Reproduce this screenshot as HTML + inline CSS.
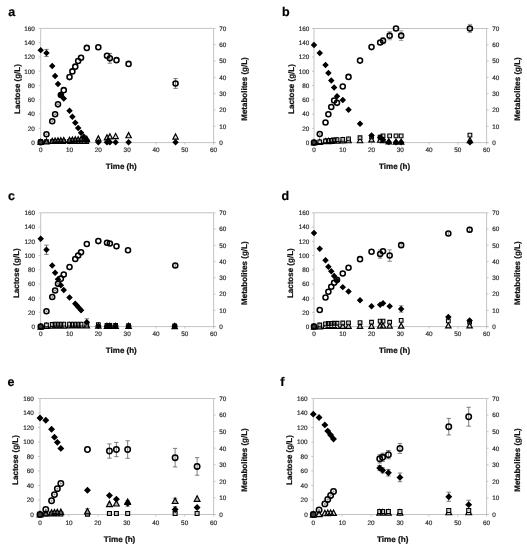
<!DOCTYPE html>
<html lang="en">
<head>
<meta charset="utf-8">
<title>Lactose fermentation profiles</title>
<style>
html,body{margin:0;padding:0;background:#fff;}
body{width:527px;height:550px;overflow:hidden;}
svg{display:block;font-family:"Liberation Sans",Arial,Helvetica,sans-serif;text-rendering:geometricPrecision;}
.tl text{font-size:6.4px;fill:#2a2a2a;stroke:#2a2a2a;stroke-width:0.18px;}
.at{font-size:8px;font-weight:bold;fill:#111;stroke:#111;stroke-width:0.22px;}
.pl{font-size:12.5px;font-weight:bold;fill:#000;stroke:#000;stroke-width:0.2px;}
circle{fill:none;stroke:#000;stroke-width:1.55;}
circle.g0{fill:#3a3a3a;}
circle.gd{fill:#8c8c8c;stroke:none;}
</style>
</head>
<body>
<svg width="527" height="550" viewBox="0 0 527 550">
<rect width="527" height="550" fill="#fff"/>
<g id="panel-a">
<path d="M40.7 28.4H213.6M40.7 28.4V142.6M213.6 28.4V142.6M40.7 142.6H215.6" stroke="#bcbcbc" stroke-width="0.9" fill="none"/>
<path d="M38.7 142.6H40.7M38.7 128.32H40.7M38.7 114.05H40.7M38.7 99.78H40.7M38.7 85.5H40.7M38.7 71.23H40.7M38.7 56.95H40.7M38.7 42.68H40.7M38.7 28.4H40.7M213.6 142.6H215.6M213.6 126.29H215.6M213.6 109.97H215.6M213.6 93.66H215.6M213.6 77.34H215.6M213.6 61.03H215.6M213.6 44.71H215.6M213.6 28.4H215.6M40.7 142.6V144.6M69.52 142.6V144.6M98.33 142.6V144.6M127.15 142.6V144.6M155.97 142.6V144.6M184.78 142.6V144.6M213.6 142.6V144.6" stroke="#bcbcbc" stroke-width="0.8" fill="none"/>
<g class="tl" text-anchor="end">
<text x="34.8" y="144.95">0</text>
<text x="34.8" y="130.67">20</text>
<text x="34.8" y="116.4">40</text>
<text x="34.8" y="102.12">60</text>
<text x="34.8" y="87.85">80</text>
<text x="34.8" y="73.58">100</text>
<text x="34.8" y="59.3">120</text>
<text x="34.8" y="45.03">140</text>
<text x="34.8" y="30.75">160</text>
</g>
<g class="tl" text-anchor="start">
<text x="219.2" y="144.9">0</text>
<text x="219.2" y="128.59">10</text>
<text x="219.2" y="112.27">20</text>
<text x="219.2" y="95.96">30</text>
<text x="219.2" y="79.64">40</text>
<text x="219.2" y="63.33">50</text>
<text x="219.2" y="47.01">60</text>
<text x="219.2" y="30.7">70</text>
</g>
<g class="tl" text-anchor="middle">
<text x="40.7" y="152.3">0</text>
<text x="69.52" y="152.3">10</text>
<text x="98.33" y="152.3">20</text>
<text x="127.15" y="152.3">30</text>
<text x="155.97" y="152.3">40</text>
<text x="184.78" y="152.3">50</text>
<text x="213.6" y="152.3">60</text>
</g>
<text class="at" text-anchor="middle" transform="translate(20.2 89) rotate(-90)">Lactose (g/L)</text>
<text class="at" text-anchor="middle" transform="translate(247.2 89) rotate(-90)">Metabolites (g/L)</text>
<text class="at" text-anchor="middle" x="121.3" y="168.7" style="font-size:8px">Time (h)</text>
<text class="pl" x="8.3" y="15.8">a</text>
<path d="M46.46 49.41V56.55M44.26 49.41H48.66M44.26 56.55H48.66M109.86 53.45V63.24M107.66 53.45H112.06M107.66 63.24H112.06M175.56 78.57V88.36M173.36 78.57H177.76M173.36 88.36H177.76" stroke="#5a5a5a" stroke-width="0.8" fill="none"/>
<path d="M38.85 139.86h3.71v3.71h-3.71zM44.61 139.86h3.71v3.71h-3.71zM50.37 139.86h3.71v3.71h-3.71zM53.25 139.86h3.71v3.71h-3.71zM56.14 139.86h3.71v3.71h-3.71zM59.02 139.86h3.71v3.71h-3.71zM61.9 139.86h3.71v3.71h-3.71zM67.66 139.86h3.71v3.71h-3.71zM70.54 139.86h3.71v3.71h-3.71zM73.43 139.86h3.71v3.71h-3.71zM76.31 139.86h3.71v3.71h-3.71zM79.19 139.86h3.71v3.71h-3.71zM82.07 139.86h3.71v3.71h-3.71zM84.95 139.86h3.71v3.71h-3.71z" stroke="#000" stroke-width="1.1" fill="#dcdcdc" fill-opacity="0.8"/>
<path d="M40.7 139.3L43.38 144.45H38.02zM46.46 138.81L49.14 143.96H43.79zM52.23 138.32L54.9 143.47H49.55zM55.11 137.99L57.79 143.14H52.43zM57.99 137.83L60.67 142.98H55.31zM60.87 137.67L63.55 142.82H58.19zM63.75 137.5L66.43 142.65H61.08zM69.52 137.18L72.19 142.33H66.84zM72.4 137.01L75.08 142.16H69.72zM75.28 136.85L77.96 142H72.6zM78.16 136.69L80.84 141.84H75.48zM81.04 136.53L83.72 141.68H78.37zM83.92 136.36L86.6 141.51H81.25zM86.81 136.2L89.48 141.35H84.13z" stroke="#000" stroke-width="1.2" fill="#666" stroke-linejoin="miter"/>
<path d="M98.33 135.87L101.01 141.02H95.66zM106.98 134.73L109.66 139.88H104.3zM109.86 133.75L112.54 138.9H107.18zM115.62 133.43L118.3 138.58H112.95zM128.59 132.61L131.27 137.76H125.91zM175.56 133.91L178.24 139.06H172.88z" stroke="#000" stroke-width="1.2" fill="#dadada" fill-opacity="0.85" stroke-linejoin="miter"/>
<path d="M40.7 46.88L43.94 50.13L40.7 53.37L37.46 50.13zM46.46 49.74L49.71 52.98L46.46 56.23L43.22 52.98zM52.23 62.87L55.47 66.11L52.23 69.36L48.98 66.11zM55.11 72.86L58.35 76.11L55.11 79.35L51.86 76.11zM57.99 80.86L61.23 84.1L57.99 87.35L54.75 84.1zM60.87 91.49L64.12 94.74L60.87 97.98L57.63 94.74zM63.75 95.27L67 98.52L63.75 101.76L60.51 98.52zM69.52 107.41L72.76 110.65L69.52 113.9L66.27 110.65zM72.4 113.4L75.64 116.65L72.4 119.89L69.15 116.65zM75.28 119.54L78.52 122.79L75.28 126.03L72.04 122.79zM78.16 124.82L81.41 128.07L78.16 131.31L74.92 128.07zM81.04 129.39L84.29 132.64L81.04 135.88L77.8 132.64zM83.92 133.46L87.17 136.7L83.92 139.95L80.68 136.7zM86.81 136.96L90.05 140.2L86.81 143.45L83.56 140.2zM98.33 138.96L101.58 142.2L98.33 145.44L95.09 142.2zM106.98 138.96L110.22 142.2L106.98 145.44L103.73 142.2zM109.86 138.96L113.1 142.2L109.86 145.44L106.62 142.2zM115.62 138.96L118.87 142.2L115.62 145.44L112.38 142.2zM128.59 138.96L131.84 142.2L128.59 145.44L125.35 142.2zM175.56 138.96L178.81 142.2L175.56 145.44L172.32 142.2z" fill="#000"/>
<circle cx="40.7" cy="142.2" r="2.52" class="g0"/>
<circle class="gd" cx="46.46" cy="134.37" r="1"/>
<circle cx="46.46" cy="134.37" r="2.52"/>
<circle class="gd" cx="52.23" cy="121.32" r="1"/>
<circle cx="52.23" cy="121.32" r="2.52"/>
<circle class="gd" cx="55.11" cy="114.3" r="1"/>
<circle cx="55.11" cy="114.3" r="2.52"/>
<circle class="gd" cx="57.99" cy="104.35" r="1"/>
<circle cx="57.99" cy="104.35" r="2.52"/>
<circle cx="60.87" cy="95.05" r="2.52"/>
<circle cx="63.75" cy="90.16" r="2.52"/>
<circle cx="69.52" cy="77.11" r="2.52"/>
<circle cx="72.4" cy="71.4" r="2.52"/>
<circle cx="75.28" cy="66.66" r="2.52"/>
<circle cx="78.16" cy="60.95" r="2.52"/>
<circle cx="81.04" cy="57.69" r="2.52"/>
<circle cx="86.81" cy="47.9" r="2.52"/>
<circle cx="98.33" cy="47.25" r="2.52"/>
<circle cx="106.98" cy="55.73" r="2.52"/>
<circle cx="109.86" cy="58.34" r="2.52"/>
<circle cx="116.49" cy="60.14" r="2.52"/>
<circle cx="128.59" cy="63.89" r="2.52"/>
<circle cx="175.56" cy="83.47" r="2.52"/>
</g>
<g id="panel-b">
<path d="M314 28.5H486.6M314 28.5V142.6M486.6 28.5V142.6M314 142.6H488.6" stroke="#bcbcbc" stroke-width="0.9" fill="none"/>
<path d="M312 142.6H314M312 128.34H314M312 114.07H314M312 99.81H314M312 85.55H314M312 71.29H314M312 57.02H314M312 42.76H314M312 28.5H314M486.6 142.6H488.6M486.6 126.3H488.6M486.6 110H488.6M486.6 93.7H488.6M486.6 77.4H488.6M486.6 61.1H488.6M486.6 44.8H488.6M486.6 28.5H488.6M314 142.6V144.6M342.77 142.6V144.6M371.53 142.6V144.6M400.3 142.6V144.6M429.07 142.6V144.6M457.83 142.6V144.6M486.6 142.6V144.6" stroke="#bcbcbc" stroke-width="0.8" fill="none"/>
<g class="tl" text-anchor="end">
<text x="309.4" y="144.95">0</text>
<text x="309.4" y="130.69">20</text>
<text x="309.4" y="116.42">40</text>
<text x="309.4" y="102.16">60</text>
<text x="309.4" y="87.9">80</text>
<text x="309.4" y="73.64">100</text>
<text x="309.4" y="59.37">120</text>
<text x="309.4" y="45.11">140</text>
<text x="309.4" y="30.85">160</text>
</g>
<g class="tl" text-anchor="start">
<text x="492.2" y="144.9">0</text>
<text x="492.2" y="128.6">10</text>
<text x="492.2" y="112.3">20</text>
<text x="492.2" y="96">30</text>
<text x="492.2" y="79.7">40</text>
<text x="492.2" y="63.4">50</text>
<text x="492.2" y="47.1">60</text>
<text x="492.2" y="30.8">70</text>
</g>
<g class="tl" text-anchor="middle">
<text x="314" y="152.3">0</text>
<text x="342.77" y="152.3">10</text>
<text x="371.53" y="152.3">20</text>
<text x="400.3" y="152.3">30</text>
<text x="429.07" y="152.3">40</text>
<text x="457.83" y="152.3">50</text>
<text x="486.6" y="152.3">60</text>
</g>
<text class="at" text-anchor="middle" transform="translate(293.5 89.05) rotate(-90)">Lactose (g/L)</text>
<text class="at" text-anchor="middle" transform="translate(520.2 89.05) rotate(-90)">Metabolites (g/L)</text>
<text class="at" text-anchor="middle" x="394.6" y="168.7" style="font-size:8px">Time (h)</text>
<text class="pl" x="281.9" y="15.5">b</text>
<path d="M383.04 37.47V43.98M380.84 37.47H385.24M380.84 43.98H385.24M389.66 31.6V39.75M387.46 31.6H391.86M387.46 39.75H391.86M401.16 30.78V40.56M398.96 30.78H403.36M398.96 40.56H403.36M469.92 24.42V32.58M467.72 24.42H472.12M467.72 32.58H472.12" stroke="#8a8a8a" stroke-width="0.8" fill="none"/>
<path d="M314 139.86L316.68 145.01H311.32zM319.75 139.21L322.43 144.36H317.08zM325.51 138.56L328.18 143.71H322.83zM328.38 138.4L331.06 143.54H325.71zM331.26 138.23L333.94 143.38H328.58zM334.14 138.07L336.81 143.22H331.46zM337.01 137.91L339.69 143.06H334.34zM342.77 137.74L345.44 142.89H340.09zM348.52 137.58L351.2 142.73H345.84zM360.03 137.58L362.7 142.73H357.35zM371.53 136.77L374.21 141.91H368.86zM380.16 137.09L382.84 142.24H377.49zM383.04 137.58L385.72 142.73H380.36zM388.79 138.72L391.47 143.87H386.12zM395.99 139.05L398.66 144.2H393.31zM401.16 139.05L403.84 144.2H398.49zM469.92 137.58L472.59 142.73H467.24z" stroke="#000" stroke-width="1.2" fill="#dadada" fill-opacity="0.85" stroke-linejoin="miter"/>
<path d="M312.15 140.58h3.71v3.71h-3.71zM317.9 139.93h3.71v3.71h-3.71zM323.65 139.12h3.71v3.71h-3.71zM326.53 138.79h3.71v3.71h-3.71zM329.41 138.46h3.71v3.71h-3.71zM332.28 138.14h3.71v3.71h-3.71zM335.16 137.81h3.71v3.71h-3.71zM340.91 137.49h3.71v3.71h-3.71zM346.67 137h3.71v3.71h-3.71zM358.17 135.86h3.71v3.71h-3.71zM369.68 135.04h3.71v3.71h-3.71zM378.31 135.2h3.71v3.71h-3.71zM381.19 134.06h3.71v3.71h-3.71zM387.8 134.06h3.71v3.71h-3.71zM394.13 134.06h3.71v3.71h-3.71zM399.31 134.06h3.71v3.71h-3.71zM468.06 133.25h3.71v3.71h-3.71z" stroke="#000" stroke-width="1.1" fill="#dcdcdc" fill-opacity="0.8"/>
<path d="M314 41.66L317.24 44.9L314 48.15L310.76 44.9zM319.75 49.79L323 53.03L319.75 56.28L316.51 53.03zM325.51 61.77L328.75 65.01L325.51 68.26L322.26 65.01zM328.38 69.83L331.63 73.07L328.38 76.31L325.14 73.07zM331.26 77.31L334.5 80.56L331.26 83.8L328.02 80.56zM334.14 84.23L337.38 87.48L334.14 90.72L330.89 87.48zM337.01 93L340.26 96.25L337.01 99.49L333.77 96.25zM342.77 96.71L346.01 99.96L342.77 103.2L339.52 99.96zM348.52 106.62L351.76 109.87L348.52 113.11L345.28 109.87zM360.03 120.46L363.27 123.7L360.03 126.95L356.78 123.7zM371.53 132.37L374.78 135.61L371.53 138.86L368.29 135.61zM380.16 134.36L383.41 137.61L380.16 140.85L376.92 137.61zM383.04 136.5L386.28 139.75L383.04 142.99L379.8 139.75zM388.79 138.78L392.04 142.03L388.79 145.27L385.55 142.03zM395.99 139L399.23 142.24L395.99 145.49L392.74 142.24zM401.16 139L404.41 142.24L401.16 145.49L397.92 142.24zM469.92 139L473.16 142.24L469.92 145.49L466.67 142.24z" fill="#000"/>
<circle cx="314" cy="142.6" r="2.52" class="g0"/>
<circle class="gd" cx="319.75" cy="134.12" r="1"/>
<circle cx="319.75" cy="134.12" r="2.52"/>
<circle cx="325.51" cy="122.55" r="2.52"/>
<circle cx="328.38" cy="114.24" r="2.52"/>
<circle cx="331.26" cy="107.07" r="2.52"/>
<circle cx="334.14" cy="100.55" r="2.52"/>
<circle cx="337.01" cy="102.83" r="2.52"/>
<circle cx="342.77" cy="86.53" r="2.52"/>
<circle cx="348.52" cy="76.91" r="2.52"/>
<circle cx="360.03" cy="60.61" r="2.52"/>
<circle cx="371.53" cy="47.08" r="2.52"/>
<circle cx="380.16" cy="42.52" r="2.52"/>
<circle cx="383.04" cy="40.72" r="2.52"/>
<circle cx="389.66" cy="35.67" r="2.52"/>
<circle cx="395.99" cy="28.5" r="2.52"/>
<circle cx="401.16" cy="35.67" r="2.52"/>
<circle cx="469.92" cy="28.5" r="2.52"/>
</g>
<g id="panel-c">
<path d="M40.7 212.8H213.6M40.7 212.8V326.6M213.6 212.8V326.6M40.7 326.6H215.6" stroke="#bcbcbc" stroke-width="0.9" fill="none"/>
<path d="M38.7 326.6H40.7M38.7 312.38H40.7M38.7 298.15H40.7M38.7 283.93H40.7M38.7 269.7H40.7M38.7 255.48H40.7M38.7 241.25H40.7M38.7 227.03H40.7M38.7 212.8H40.7M213.6 326.6H215.6M213.6 310.34H215.6M213.6 294.09H215.6M213.6 277.83H215.6M213.6 261.57H215.6M213.6 245.31H215.6M213.6 229.06H215.6M213.6 212.8H215.6M40.7 326.6V328.6M69.52 326.6V328.6M98.33 326.6V328.6M127.15 326.6V328.6M155.97 326.6V328.6M184.78 326.6V328.6M213.6 326.6V328.6" stroke="#bcbcbc" stroke-width="0.8" fill="none"/>
<g class="tl" text-anchor="end">
<text x="35.1" y="328.95">0</text>
<text x="35.1" y="314.73">20</text>
<text x="35.1" y="300.5">40</text>
<text x="35.1" y="286.28">60</text>
<text x="35.1" y="272.05">80</text>
<text x="35.1" y="257.83">100</text>
<text x="35.1" y="243.6">120</text>
<text x="35.1" y="229.38">140</text>
<text x="35.1" y="215.15">160</text>
</g>
<g class="tl" text-anchor="start">
<text x="219.2" y="328.9">0</text>
<text x="219.2" y="312.64">10</text>
<text x="219.2" y="296.39">20</text>
<text x="219.2" y="280.13">30</text>
<text x="219.2" y="263.87">40</text>
<text x="219.2" y="247.61">50</text>
<text x="219.2" y="231.36">60</text>
<text x="219.2" y="215.1">70</text>
</g>
<g class="tl" text-anchor="middle">
<text x="40.7" y="336.3">0</text>
<text x="69.52" y="336.3">10</text>
<text x="98.33" y="336.3">20</text>
<text x="127.15" y="336.3">30</text>
<text x="155.97" y="336.3">40</text>
<text x="184.78" y="336.3">50</text>
<text x="213.6" y="336.3">60</text>
</g>
<text class="at" text-anchor="middle" transform="translate(19.4 273.2) rotate(-90)">Lactose (g/L)</text>
<text class="at" text-anchor="middle" transform="translate(247.2 273.2) rotate(-90)">Metabolites (g/L)</text>
<text class="at" text-anchor="middle" x="121.3" y="352.7" style="font-size:8px">Time (h)</text>
<text class="pl" x="8" y="200.3">c</text>
<path d="M46.46 245.16V254.41M44.26 245.16H48.66M44.26 254.41H48.66M86.81 318.78V325.89M84.61 318.78H89.01M84.61 325.89H89.01M175.27 263.85V267.1" stroke="#5a5a5a" stroke-width="0.8" fill="none"/>
<path d="M40.7 324.03L43.38 329.18H38.02zM46.46 323.21L49.14 328.36H43.79zM52.23 323.05L54.9 328.2H49.55zM55.11 322.89L57.79 328.04H52.43zM57.99 322.89L60.67 328.04H55.31zM60.87 322.89L63.55 328.04H58.19zM63.75 322.89L66.43 328.04H61.08zM69.52 322.72L72.19 327.87H66.84zM72.4 322.72L75.08 327.87H69.72zM75.28 322.72L77.96 327.87H72.6zM78.16 322.72L80.84 327.87H75.48zM81.04 322.72L83.72 327.87H78.37zM86.81 322.72L89.48 327.87H84.13zM98.33 323.05L101.01 328.2H95.66zM106.98 323.21L109.66 328.36H104.3zM109.86 323.21L112.54 328.36H107.18zM115.62 323.21L118.3 328.36H112.95zM128.59 323.37L131.27 328.52H125.91zM174.7 323.54L177.38 328.69H172.02z" stroke="#000" stroke-width="1.2" fill="#dadada" fill-opacity="0.85" stroke-linejoin="miter"/>
<path d="M38.85 324.75h3.71v3.71h-3.71zM44.61 323.12h3.71v3.71h-3.71zM50.37 322.63h3.71v3.71h-3.71zM53.25 322.31h3.71v3.71h-3.71zM56.14 322.31h3.71v3.71h-3.71zM59.02 322.31h3.71v3.71h-3.71zM61.9 322.31h3.71v3.71h-3.71zM67.66 322.31h3.71v3.71h-3.71zM70.54 322.31h3.71v3.71h-3.71zM73.43 322.31h3.71v3.71h-3.71zM76.31 322.31h3.71v3.71h-3.71zM79.19 322.31h3.71v3.71h-3.71zM84.95 322.31h3.71v3.71h-3.71zM96.48 322.8h3.71v3.71h-3.71zM105.12 323.45h3.71v3.71h-3.71zM108.01 323.45h3.71v3.71h-3.71zM113.77 323.45h3.71v3.71h-3.71zM126.74 323.77h3.71v3.71h-3.71zM172.84 324.1h3.71v3.71h-3.71z" stroke="#000" stroke-width="1.1" fill="#ffffff" fill-opacity="0.8"/>
<path d="M40.7 235.52L43.94 238.76L40.7 242.01L37.46 238.76zM46.46 246.54L49.71 249.79L46.46 253.03L43.22 249.79zM52.23 262.19L55.47 265.43L52.23 268.68L48.98 265.43zM55.11 269.59L58.35 272.83L55.11 276.07L51.86 272.83zM57.99 275.99L61.23 279.23L57.99 282.48L54.75 279.23zM60.87 281.89L64.12 285.13L60.87 288.38L57.63 285.13zM63.75 286.73L67 289.97L63.75 293.22L60.51 289.97zM69.52 294.19L72.76 297.44L69.52 300.68L66.27 297.44zM75.28 300.38L78.52 303.63L75.28 306.87L72.04 303.63zM76.72 302.02L79.97 305.26L76.72 308.51L73.48 305.26zM78.16 303.65L81.41 306.9L78.16 310.14L74.92 306.9zM79.6 305.36L82.85 308.61L79.6 311.85L76.36 308.61zM81.04 307L84.29 310.24L81.04 313.49L77.8 310.24zM86.81 319.09L90.05 322.33L86.81 325.58L83.56 322.33zM98.33 322.79L101.58 326.03L98.33 329.28L95.09 326.03zM106.98 322.79L110.22 326.03L106.98 329.28L103.73 326.03zM109.86 322.79L113.1 326.03L109.86 329.28L106.62 326.03zM115.62 322.79L118.87 326.03L115.62 329.28L112.38 326.03zM128.59 322.79L131.84 326.03L128.59 329.28L125.35 326.03zM174.7 322.79L177.94 326.03L174.7 329.28L171.45 326.03z" fill="#000"/>
<circle cx="40.7" cy="326.6" r="2.52" class="g0"/>
<circle class="gd" cx="46.46" cy="311.32" r="1"/>
<circle cx="46.46" cy="311.32" r="2.52"/>
<circle class="gd" cx="52.23" cy="297.01" r="1"/>
<circle cx="52.23" cy="297.01" r="2.52"/>
<circle class="gd" cx="55.11" cy="290.51" r="1"/>
<circle cx="55.11" cy="290.51" r="2.52"/>
<circle class="gd" cx="57.99" cy="283.84" r="1"/>
<circle cx="57.99" cy="283.84" r="2.52"/>
<circle cx="60.87" cy="278.64" r="2.52"/>
<circle cx="63.75" cy="274.58" r="2.52"/>
<circle cx="69.52" cy="267.1" r="2.52"/>
<circle cx="75.28" cy="258.97" r="2.52"/>
<circle cx="78.16" cy="255.56" r="2.52"/>
<circle cx="81.04" cy="252.3" r="2.52"/>
<circle cx="86.81" cy="244.01" r="2.52"/>
<circle cx="98.33" cy="241.09" r="2.52"/>
<circle cx="106.98" cy="242.71" r="2.52"/>
<circle cx="109.86" cy="243.53" r="2.52"/>
<circle cx="116.49" cy="246.29" r="2.52"/>
<circle cx="128.01" cy="250.19" r="2.52"/>
<circle cx="175.27" cy="265.47" r="2.52"/>
</g>
<g id="panel-d">
<path d="M314 212.8H486.6M314 212.8V326.6M486.6 212.8V326.6M314 326.6H488.6" stroke="#bcbcbc" stroke-width="0.9" fill="none"/>
<path d="M312 326.6H314M312 312.38H314M312 298.15H314M312 283.93H314M312 269.7H314M312 255.48H314M312 241.25H314M312 227.03H314M312 212.8H314M486.6 326.6H488.6M486.6 310.34H488.6M486.6 294.09H488.6M486.6 277.83H488.6M486.6 261.57H488.6M486.6 245.31H488.6M486.6 229.06H488.6M486.6 212.8H488.6M314 326.6V328.6M342.77 326.6V328.6M371.53 326.6V328.6M400.3 326.6V328.6M429.07 326.6V328.6M457.83 326.6V328.6M486.6 326.6V328.6" stroke="#bcbcbc" stroke-width="0.8" fill="none"/>
<g class="tl" text-anchor="end">
<text x="309.3" y="328.95">0</text>
<text x="309.3" y="314.73">20</text>
<text x="309.3" y="300.5">40</text>
<text x="309.3" y="286.28">60</text>
<text x="309.3" y="272.05">80</text>
<text x="309.3" y="257.83">100</text>
<text x="309.3" y="243.6">120</text>
<text x="309.3" y="229.38">140</text>
<text x="309.3" y="215.15">160</text>
</g>
<g class="tl" text-anchor="start">
<text x="492.2" y="328.9">0</text>
<text x="492.2" y="312.64">10</text>
<text x="492.2" y="296.39">20</text>
<text x="492.2" y="280.13">30</text>
<text x="492.2" y="263.87">40</text>
<text x="492.2" y="247.61">50</text>
<text x="492.2" y="231.36">60</text>
<text x="492.2" y="215.1">70</text>
</g>
<g class="tl" text-anchor="middle">
<text x="314" y="336.3">0</text>
<text x="342.77" y="336.3">10</text>
<text x="371.53" y="336.3">20</text>
<text x="400.3" y="336.3">30</text>
<text x="429.07" y="336.3">40</text>
<text x="457.83" y="336.3">50</text>
<text x="486.6" y="336.3">60</text>
</g>
<text class="at" text-anchor="middle" transform="translate(292.7 273.2) rotate(-90)">Lactose (g/L)</text>
<text class="at" text-anchor="middle" transform="translate(520.2 273.2) rotate(-90)">Metabolites (g/L)</text>
<text class="at" text-anchor="middle" x="394.6" y="352.7" style="font-size:8px">Time (h)</text>
<text class="pl" x="281.5" y="200.3">d</text>
<path d="M314 230.87V235.13M319.75 246.58V250.85M383.04 301.14V305.4M401.16 305.76V312.16M398.96 305.76H403.36M398.96 312.16H403.36M380.16 250.03V258.16M377.96 250.03H382.36M377.96 258.16H382.36M389.66 249.87V261.25M387.46 249.87H391.86M387.46 261.25H391.86M401.16 242.71V247.59M398.96 242.71H403.36M398.96 247.59H403.36M448.34 231.82V235.07M469.63 227.27V232.15M467.43 227.27H471.83M467.43 232.15H471.83" stroke="#707070" stroke-width="0.8" fill="none"/>
<path d="M314 324.03L316.68 329.18H311.32zM319.75 323.7L322.43 328.85H317.08zM325.51 323.37L328.18 328.52H322.83zM328.38 323.37L331.06 328.52H325.71zM331.26 323.21L333.94 328.36H328.58zM334.14 323.21L336.81 328.36H331.46zM337.01 323.21L339.69 328.36H334.34zM342.77 323.21L345.44 328.36H340.09zM348.52 323.21L351.2 328.36H345.84zM360.03 323.21L362.7 328.36H357.35zM371.53 323.21L374.21 328.36H368.86zM380.16 323.05L382.84 328.2H377.49zM383.04 323.05L385.72 328.2H380.36zM389.66 323.05L392.33 328.2H386.98zM401.16 323.05L403.84 328.2H398.49zM448.34 322.72L451.02 327.87H445.66zM469.63 322.72L472.31 327.87H466.95z" stroke="#000" stroke-width="1.2" fill="#dadada" fill-opacity="0.85" stroke-linejoin="miter"/>
<path d="M312.15 324.42h3.71v3.71h-3.71zM317.9 323.12h3.71v3.71h-3.71zM323.65 321.98h3.71v3.71h-3.71zM326.53 321.66h3.71v3.71h-3.71zM329.41 321.49h3.71v3.71h-3.71zM332.28 321.33h3.71v3.71h-3.71zM335.16 321.33h3.71v3.71h-3.71zM340.91 321.17h3.71v3.71h-3.71zM346.67 321.01h3.71v3.71h-3.71zM358.17 320.68h3.71v3.71h-3.71zM369.68 320.36h3.71v3.71h-3.71zM378.31 319.22h3.71v3.71h-3.71zM381.19 319.22h3.71v3.71h-3.71zM387.8 320.36h3.71v3.71h-3.71zM399.31 318.57h3.71v3.71h-3.71zM446.49 319.06h3.71v3.71h-3.71zM467.77 320.19h3.71v3.71h-3.71z" stroke="#000" stroke-width="1.1" fill="#dcdcdc" fill-opacity="0.8"/>
<path d="M314 229.76L317.24 233L314 236.24L310.76 233zM319.75 245.47L323 248.72L319.75 251.96L316.51 248.72zM325.51 257.07L328.75 260.31L325.51 263.56L322.26 260.31zM328.38 263.61L331.63 266.86L328.38 270.1L325.14 266.86zM331.26 268.09L334.5 271.34L331.26 274.58L328.02 271.34zM334.14 272.71L337.38 275.96L334.14 279.2L330.89 275.96zM337.01 277.55L340.26 280.8L337.01 284.04L333.77 280.8zM342.77 283.88L346.01 287.13L342.77 290.37L339.52 287.13zM348.52 288.36L351.76 291.61L348.52 294.85L345.28 291.61zM360.03 296.9L363.27 300.14L360.03 303.39L356.78 300.14zM371.53 303.01L374.78 306.26L371.53 309.5L368.29 306.26zM380.16 301.52L383.41 304.76L380.16 308.01L376.92 304.76zM383.04 300.03L386.28 303.27L383.04 306.52L379.8 303.27zM389.66 303.01L392.9 306.26L389.66 309.5L386.41 306.26zM401.16 305.72L404.41 308.96L401.16 312.21L397.92 308.96zM448.34 313.75L451.58 317L448.34 320.24L445.1 317zM469.63 317.17L472.87 320.41L469.63 323.66L466.38 320.41z" fill="#000"/>
<circle cx="314" cy="326.6" r="2.52" class="g0"/>
<circle cx="319.75" cy="310.02" r="2.52"/>
<circle cx="325.51" cy="297.5" r="2.52"/>
<circle cx="328.38" cy="291.81" r="2.52"/>
<circle cx="331.26" cy="286.77" r="2.52"/>
<circle cx="334.14" cy="282.71" r="2.52"/>
<circle cx="337.01" cy="279.78" r="2.52"/>
<circle cx="342.77" cy="273.44" r="2.52"/>
<circle cx="348.52" cy="267.75" r="2.52"/>
<circle cx="360.03" cy="259.13" r="2.52"/>
<circle cx="371.53" cy="251.82" r="2.52"/>
<circle cx="380.16" cy="254.09" r="2.52"/>
<circle cx="383.04" cy="251.33" r="2.52"/>
<circle cx="389.66" cy="255.56" r="2.52"/>
<circle cx="401.16" cy="245.15" r="2.52"/>
<circle cx="448.34" cy="233.45" r="2.52"/>
<circle cx="469.63" cy="229.71" r="2.52"/>
</g>
<g id="panel-e">
<path d="M40 398.5H213.6M40 398.5V514.5M213.6 398.5V514.5M40 514.5H215.6" stroke="#bcbcbc" stroke-width="0.9" fill="none"/>
<path d="M38 514.5H40M38 500H40M38 485.5H40M38 471H40M38 456.5H40M38 442H40M38 427.5H40M38 413H40M38 398.5H40M213.6 514.5H215.6M213.6 497.93H215.6M213.6 481.36H215.6M213.6 464.79H215.6M213.6 448.21H215.6M213.6 431.64H215.6M213.6 415.07H215.6M213.6 398.5H215.6M40 514.5V516.5M68.93 514.5V516.5M97.87 514.5V516.5M126.8 514.5V516.5M155.73 514.5V516.5M184.67 514.5V516.5M213.6 514.5V516.5" stroke="#bcbcbc" stroke-width="0.8" fill="none"/>
<g class="tl" text-anchor="end">
<text x="33.8" y="516.85">0</text>
<text x="33.8" y="502.35">20</text>
<text x="33.8" y="487.85">40</text>
<text x="33.8" y="473.35">60</text>
<text x="33.8" y="458.85">80</text>
<text x="33.8" y="444.35">100</text>
<text x="33.8" y="429.85">120</text>
<text x="33.8" y="415.35">140</text>
<text x="33.8" y="400.85">160</text>
</g>
<g class="tl" text-anchor="start">
<text x="219.2" y="516.8">0</text>
<text x="219.2" y="500.23">10</text>
<text x="219.2" y="483.66">20</text>
<text x="219.2" y="467.09">30</text>
<text x="219.2" y="450.51">40</text>
<text x="219.2" y="433.94">50</text>
<text x="219.2" y="417.37">60</text>
<text x="219.2" y="400.8">70</text>
</g>
<g class="tl" text-anchor="middle">
<text x="40" y="525.1">0</text>
<text x="68.93" y="525.1">10</text>
<text x="97.87" y="525.1">20</text>
<text x="126.8" y="525.1">30</text>
<text x="155.73" y="525.1">40</text>
<text x="184.67" y="525.1">50</text>
<text x="213.6" y="525.1">60</text>
</g>
<text class="at" text-anchor="middle" transform="translate(18 460) rotate(-90)">Lactose (g/L)</text>
<text class="at" text-anchor="middle" transform="translate(247.2 460) rotate(-90)">Metabolites (g/L)</text>
<text class="at" text-anchor="middle" x="119.6" y="542.3" style="font-size:8.15px">Time (h)</text>
<text class="pl" x="7.4" y="385.6">e</text>
<path d="M40 415.9V420.25M127.67 500.44V506.24M125.47 500.44H129.87M125.47 506.24H129.87M175.12 506.67V512.47M172.92 506.67H177.32M172.92 512.47H177.32M109.44 443.91V458.16M107.24 443.91H111.64M107.24 458.16H111.64M116.38 442.41V456.67M114.18 442.41H118.58M114.18 456.67H118.58M127.67 440.76V458.32M125.47 440.76H129.87M125.47 458.32H129.87M175.12 448.38V466.94M172.92 448.38H177.32M172.92 466.94H177.32M197.11 457.66V475.23M194.91 457.66H199.31M194.91 475.23H199.31M87.45 508.7V513.67M85.25 508.7H89.65M85.25 513.67H89.65M175.12 498.26V503.23M172.92 498.26H177.32M172.92 503.23H177.32" stroke="#606060" stroke-width="0.8" fill="none"/>
<path d="M38.02 512.52h3.96v3.96h-3.96zM43.81 512.02h3.96v3.96h-3.96zM49.59 512.02h3.96v3.96h-3.96zM52.49 512.02h3.96v3.96h-3.96zM55.38 512.02h3.96v3.96h-3.96zM58.85 512.02h3.96v3.96h-3.96zM85.47 512.19h3.96v3.96h-3.96zM107.46 511.53h3.96v3.96h-3.96zM114.4 511.53h3.96v3.96h-3.96zM125.69 511.53h3.96v3.96h-3.96zM173.14 511.53h3.96v3.96h-3.96zM195.13 511.53h3.96v3.96h-3.96z" stroke="#000" stroke-width="1.1" fill="#b8b8b8" fill-opacity="0.8"/>
<path d="M40 511.42L42.86 516.92H37.14zM45.79 510.42L48.65 515.92H42.93zM51.57 509.76L54.43 515.26H48.71zM54.47 509.43L57.33 514.93H51.61zM57.36 509.26L60.22 514.76H54.5zM60.83 509.1L63.69 514.6H57.97z" stroke="#000" stroke-width="1.2" fill="#666" stroke-linejoin="miter"/>
<path d="M87.45 508.44L90.31 513.94H84.59zM109.44 501.14L112.3 506.64H106.58zM116.38 500.48L119.24 505.98H113.52zM127.67 498.99L130.53 504.49H124.81zM175.12 498L177.98 503.5H172.26zM197.11 495.84L199.97 501.34H194.25z" stroke="#000" stroke-width="1.2" fill="#aaaaaa" fill-opacity="0.85" stroke-linejoin="miter"/>
<path d="M40 414.61L43.47 418.07L40 421.54L36.53 418.07zM45.79 416.79L49.25 420.25L45.79 423.71L42.32 420.25zM51.57 425.85L55.04 429.31L51.57 432.78L48.11 429.31zM54.47 433.68L57.93 437.14L54.47 440.61L51 437.14zM57.36 438.9L60.83 442.36L57.36 445.83L53.89 442.36zM60.83 444.92L64.3 448.38L60.83 451.84L57.37 448.38zM87.45 486.75L90.92 490.21L87.45 493.68L83.99 490.21zM109.44 491.97L112.91 495.43L109.44 498.9L105.97 495.43zM116.38 495.67L119.85 499.13L116.38 502.59L112.92 499.13zM127.67 499.87L131.13 503.33L127.67 506.8L124.2 503.33zM175.12 506.11L178.58 509.57L175.12 513.03L171.65 509.57zM197.11 504L200.57 507.47L197.11 510.93L193.64 507.47z" fill="#000"/>
<circle cx="40" cy="514.5" r="2.7" class="g0"/>
<circle class="gd" cx="45.79" cy="509.53" r="1"/>
<circle cx="45.79" cy="509.53" r="2.7"/>
<circle class="gd" cx="51.57" cy="500.75" r="1"/>
<circle cx="51.57" cy="500.75" r="2.7"/>
<circle class="gd" cx="54.47" cy="494.61" r="1"/>
<circle cx="54.47" cy="494.61" r="2.7"/>
<circle class="gd" cx="57.36" cy="488.65" r="1"/>
<circle cx="57.36" cy="488.65" r="2.7"/>
<circle class="gd" cx="60.83" cy="483.51" r="1"/>
<circle cx="60.83" cy="483.51" r="2.7"/>
<circle cx="87.45" cy="449.54" r="2.7"/>
<circle cx="109.44" cy="451.03" r="2.7"/>
<circle cx="116.38" cy="449.54" r="2.7"/>
<circle cx="127.67" cy="449.54" r="2.7"/>
<circle cx="175.12" cy="457.66" r="2.7"/>
<circle cx="197.11" cy="466.44" r="2.7"/>
</g>
<g id="panel-f">
<path d="M313.3 398.5H486.6M313.3 398.5V514.5M486.6 398.5V514.5M313.3 514.5H488.6" stroke="#bcbcbc" stroke-width="0.9" fill="none"/>
<path d="M311.3 514.5H313.3M311.3 500H313.3M311.3 485.5H313.3M311.3 471H313.3M311.3 456.5H313.3M311.3 442H313.3M311.3 427.5H313.3M311.3 413H313.3M311.3 398.5H313.3M486.6 514.5H488.6M486.6 497.93H488.6M486.6 481.36H488.6M486.6 464.79H488.6M486.6 448.21H488.6M486.6 431.64H488.6M486.6 415.07H488.6M486.6 398.5H488.6M313.3 514.5V516.5M342.18 514.5V516.5M371.07 514.5V516.5M399.95 514.5V516.5M428.83 514.5V516.5M457.72 514.5V516.5M486.6 514.5V516.5" stroke="#bcbcbc" stroke-width="0.8" fill="none"/>
<g class="tl" text-anchor="end">
<text x="307.7" y="516.85">0</text>
<text x="307.7" y="502.35">20</text>
<text x="307.7" y="487.85">40</text>
<text x="307.7" y="473.35">60</text>
<text x="307.7" y="458.85">80</text>
<text x="307.7" y="444.35">100</text>
<text x="307.7" y="429.85">120</text>
<text x="307.7" y="415.35">140</text>
<text x="307.7" y="400.85">160</text>
</g>
<g class="tl" text-anchor="start">
<text x="492.2" y="516.8">0</text>
<text x="492.2" y="500.23">10</text>
<text x="492.2" y="483.66">20</text>
<text x="492.2" y="467.09">30</text>
<text x="492.2" y="450.51">40</text>
<text x="492.2" y="433.94">50</text>
<text x="492.2" y="417.37">60</text>
<text x="492.2" y="400.8">70</text>
</g>
<g class="tl" text-anchor="middle">
<text x="313.3" y="525.1">0</text>
<text x="342.18" y="525.1">10</text>
<text x="371.07" y="525.1">20</text>
<text x="399.95" y="525.1">30</text>
<text x="428.83" y="525.1">40</text>
<text x="457.72" y="525.1">50</text>
<text x="486.6" y="525.1">60</text>
</g>
<text class="at" text-anchor="middle" transform="translate(291.8 460) rotate(-90)">Lactose (g/L)</text>
<text class="at" text-anchor="middle" transform="translate(520.2 460) rotate(-90)">Metabolites (g/L)</text>
<text class="at" text-anchor="middle" x="392.7" y="542.3" style="font-size:8.15px">Time (h)</text>
<text class="pl" x="280.3" y="385.6">f</text>
<path d="M379.73 465.49V470.56M377.53 465.49H381.93M377.53 470.56H381.93M382.62 467.81V472.88M380.42 467.81H384.82M380.42 472.88H384.82M388.4 469.48V476M386.2 469.48H390.6M386.2 476H390.6M399.95 473.03V481.73M397.75 473.03H402.15M397.75 481.73H402.15M448.76 492.17V501.31M446.56 492.17H450.96M446.56 501.31H450.96M468.69 500.29V508.99M466.49 500.29H470.89M466.49 508.99H470.89M379.73 454.68V462.96M377.53 454.68H381.93M377.53 462.96H381.93M382.62 453.19V461.47M380.42 453.19H384.82M380.42 461.47H384.82M388.4 450.53V458.82M386.2 450.53H390.6M386.2 458.82H390.6M399.95 443.41V453.35M397.75 443.41H402.15M397.75 453.35H402.15M448.76 418.39V434.96M446.56 418.39H450.96M446.56 434.96H450.96M468.69 407.28V426.17M466.49 407.28H470.89M466.49 426.17H470.89" stroke="#606060" stroke-width="0.8" fill="none"/>
<path d="M313.3 511.58L316.16 517.08H310.44zM319.08 511.09L321.94 516.59H316.22zM324.85 510.26L327.71 515.76H321.99zM327.74 510.09L330.6 515.59H324.88zM330.63 509.93L333.49 515.43H327.77zM333.52 509.93L336.38 515.43H330.66zM379.73 509.6L382.59 515.1H376.87zM382.62 509.6L385.48 515.1H379.76zM388.4 509.6L391.26 515.1H385.54zM399.95 509.6L402.81 515.1H397.09zM448.76 509.26L451.62 514.76H445.9zM468.69 509.26L471.55 514.76H465.83z" stroke="#000" stroke-width="1.2" fill="#dadada" fill-opacity="0.85" stroke-linejoin="miter"/>
<path d="M311.32 512.35h3.96v3.96h-3.96zM377.75 509.54h3.96v3.96h-3.96zM380.64 509.54h3.96v3.96h-3.96zM386.42 509.54h3.96v3.96h-3.96zM397.97 509.54h3.96v3.96h-3.96zM446.78 508.54h3.96v3.96h-3.96zM466.71 508.54h3.96v3.96h-3.96z" stroke="#000" stroke-width="1.1" fill="#f4f4f4" fill-opacity="0.8"/>
<path d="M313.3 410.69L316.76 414.16L313.3 417.62L309.84 414.16zM319.08 414.1L322.54 417.57L319.08 421.03L315.61 417.57zM324.85 421.43L328.32 424.89L324.85 428.35L321.39 424.89zM327.74 427.66L331.21 431.12L327.74 434.59L324.28 431.12zM330.63 431.58L334.09 435.04L330.63 438.5L327.17 435.04zM333.52 435.49L336.98 438.95L333.52 442.42L330.05 438.95zM379.73 464.56L383.2 468.03L379.73 471.49L376.27 468.03zM382.62 466.88L386.08 470.35L382.62 473.81L379.16 470.35zM388.4 469.28L391.86 472.74L388.4 476.2L384.93 472.74zM399.95 473.92L403.42 477.38L399.95 480.84L396.49 477.38zM448.76 493.27L452.23 496.74L448.76 500.2L445.3 496.74zM468.69 501.18L472.16 504.64L468.69 508.1L465.23 504.64z" fill="#000"/>
<circle cx="313.3" cy="514.5" r="2.7" class="g0"/>
<circle class="gd" cx="319.08" cy="510.03" r="1"/>
<circle cx="319.08" cy="510.03" r="2.7"/>
<circle class="gd" cx="324.85" cy="503.89" r="1"/>
<circle cx="324.85" cy="503.89" r="2.7"/>
<circle class="gd" cx="327.74" cy="499.42" r="1"/>
<circle cx="327.74" cy="499.42" r="2.7"/>
<circle class="gd" cx="330.63" cy="495.44" r="1"/>
<circle cx="330.63" cy="495.44" r="2.7"/>
<circle class="gd" cx="333.52" cy="491.47" r="1"/>
<circle cx="333.52" cy="491.47" r="2.7"/>
<circle cx="379.73" cy="458.82" r="2.7"/>
<circle cx="382.62" cy="457.33" r="2.7"/>
<circle cx="388.4" cy="454.68" r="2.7"/>
<circle cx="399.95" cy="448.38" r="2.7"/>
<circle cx="448.76" cy="426.67" r="2.7"/>
<circle cx="468.69" cy="416.73" r="2.7"/>
</g>
</svg>
</body>
</html>
